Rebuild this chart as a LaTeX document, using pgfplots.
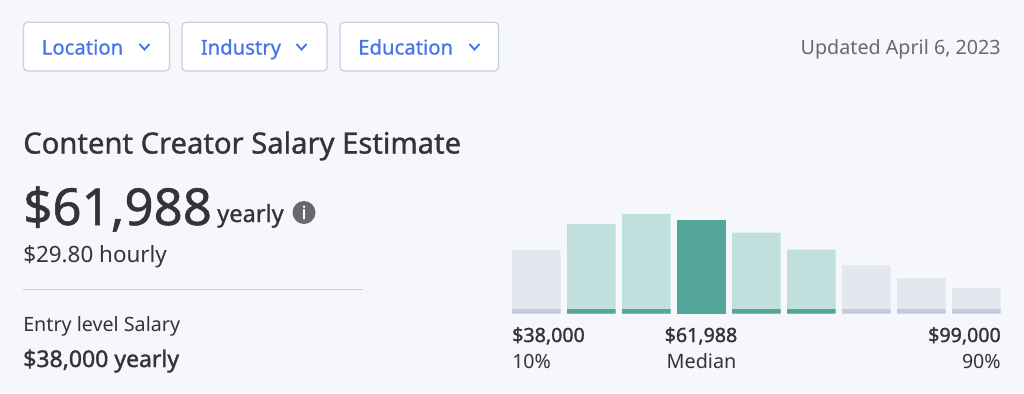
\documentclass[border=0pt]{standalone}
\usepackage{pgfplots}
\pgfplotsset{compat=1.18}
\usepackage{fontspec}
\setmainfont{Noto Sans}
\newfontfamily\btn[FakeBold=0.6]{Noto Sans}
\newfontfamily\med[FakeBold=1.0]{Noto Sans}
\newfontfamily\semi[FakeBold=1.5]{Noto Sans}
\definecolor{bg}{HTML}{F5F7FB}
\definecolor{greybar}{HTML}{E4E7F0}
\definecolor{greystrip}{HTML}{C2CAE0}
\definecolor{tealL}{HTML}{C0DFDD}
\definecolor{tealD}{HTML}{54A59A}
\definecolor{ink}{HTML}{333436}
\definecolor{blue}{HTML}{4473EE}
\definecolor{gborder}{HTML}{C6CEE3}
\definecolor{upd}{HTML}{67696C}
\newcommand{\px}[1]{\fontsize{\dimexpr#1pt*3/4\relax}{\dimexpr#1pt*9/10\relax}\selectfont}
\pgfplotstableread{
x h
0 63.7
6 48.4
7 35.7
8 25.7
}\greybars
\pgfplotstableread{
x h
1 89.7
2 99.7
4 81
5 64
}\lightbars
\pgfplotstableread{
x h
3 93.7
}\medianbar
\pgfplotstableread{
x h
0 4.7
6 4.7
7 4.7
8 4.7
}\greystrips
\pgfplotstableread{
x h
1 4.7
2 4.7
4 4.7
5 4.7
}\tealstrips
\begin{document}
\begin{tikzpicture}[x=0.75pt,y=-0.75pt]
\useasboundingbox (0,0) rectangle (1024,393);
\fill[bg] (0,0) rectangle (1024,393);
% buttons
\foreach \a/\b in {23.5/169.5,182/327,340/498.5}{
  \draw[gborder,fill=white,line width=0.9pt,rounded corners=3pt] (\a,22.3) rectangle (\b,71);
}
\node[anchor=base west,inner sep=0,text=blue] at (41.5,54.5) {\btn\px{20.3}Location};
\node[anchor=base west,inner sep=0,text=blue] at (200.5,54.5) {\btn\px{20.3}Industry};
\node[anchor=base west,inner sep=0,text=blue] at (358,54.5) {\btn\px{20.3}Education};
\foreach \c in {144.5,301.5,474.5}{
  \draw[blue,line width=1.4pt] (\c-5,44) -- (\c,49.5) -- (\c+5,44);
}
\node[anchor=base east,inner sep=0,text=upd] at (1001,54.5) {\px{19.7}Updated April 6, 2023};
% left column
\node[anchor=base west,inner sep=0,text=ink] at (23,153.5) {\med\px{29.2}Content Creator Salary Estimate};
\node[anchor=base west,inner sep=0,text=ink] at (23,225) {\med\px{51}\$61,988};
\node[anchor=base west,inner sep=0,text=ink] at (217,222) {\med\px{23.6}yearly};
\fill[upd] (304,212.5) circle (11.5);
\node[anchor=base,inner sep=0,text=white] at (304,219) {\semi\px{18}i};
\node[anchor=base west,inner sep=0,text=ink] at (23,262) {\px{22.4}\$29.80 hourly};
\draw[black!18,line width=0.75pt] (23,289) -- (363,289);
\node[anchor=base west,inner sep=0,text=ink] at (23,331) {\px{19.7}Entry level Salary};
\node[anchor=base west,inner sep=0,text=ink] at (23,367) {\semi\px{23}\$38,000 yearly};
% histogram
\begin{axis}[
  at={(384.3pt,-235.275pt)},anchor=south west,
  x=41.25pt,y=0.75pt,
  xmin=-0.4364,xmax=8.4545,ymin=0,ymax=105,
  hide axis,clip=false,
  ybar,bar width=36.4pt,
  every axis plot/.append style={bar shift=0pt,draw=none},
]
\addplot[fill=greybar] table[x=x,y=h] {\greybars};
\addplot[fill=tealL] table[x=x,y=h] {\lightbars};
\addplot[fill=tealD] table[x=x,y=h] {\medianbar};
\addplot[fill=greystrip] table[x=x,y=h] {\greystrips};
\addplot[fill=tealD] table[x=x,y=h] {\tealstrips};
\end{axis}
% bar labels
\node[anchor=base west,inner sep=0,text=ink] at (512,342) {\semi\px{19.6}\$38,000};
\node[anchor=base,inner sep=0,text=ink] at (701,342) {\semi\px{19.6}\$61,988};
\node[anchor=base east,inner sep=0,text=ink] at (1001,342) {\semi\px{19.6}\$99,000};
\node[anchor=base west,inner sep=0,text=ink] at (512,368.5) {\px{19.6}10\%};
\node[anchor=base,inner sep=0,text=ink] at (701.5,368.5) {\px{19.8}Median};
\node[anchor=base east,inner sep=0,text=ink] at (1001,368.5) {\px{19.6}90\%};
\end{tikzpicture}
\end{document}
